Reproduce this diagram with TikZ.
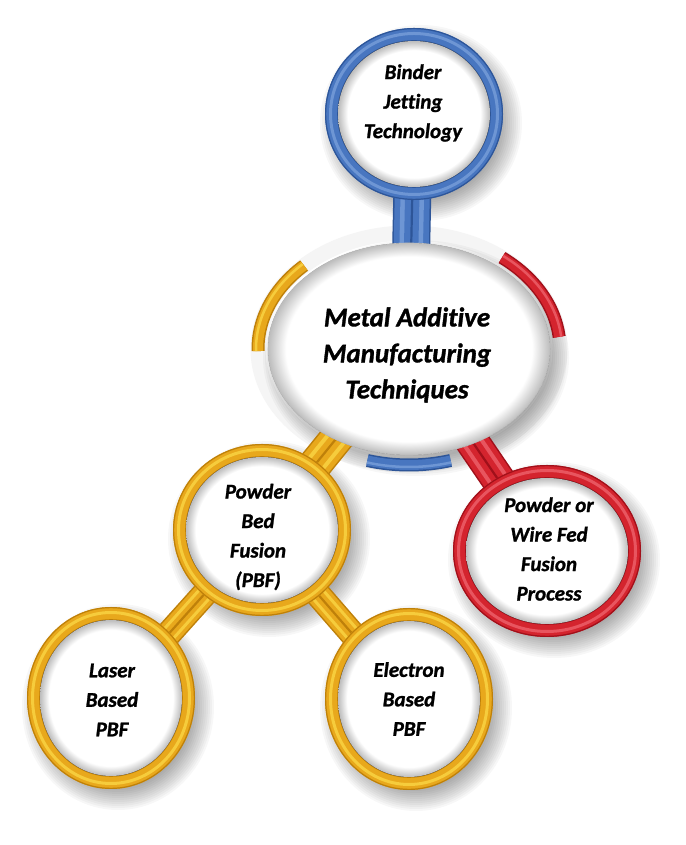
\documentclass[tikz,border=0pt]{standalone}
\usepackage{fontspec}
\setmainfont{Carlito}[BoldItalicFeatures={FakeBold=1.2}, Ligatures=NoCommon]
\usetikzlibrary{shapes.geometric}
\definecolor{bmain}{RGB}{72,118,192}
\definecolor{bdark}{RGB}{45,85,152}
\definecolor{blight}{RGB}{110,150,212}
\definecolor{ymain}{RGB}{232,168,28}
\definecolor{ydark}{RGB}{190,128,10}
\definecolor{ylight}{RGB}{246,204,60}
\definecolor{rmain}{RGB}{212,36,46}
\definecolor{rdark}{RGB}{160,16,26}
\definecolor{rlight}{RGB}{232,85,95}
\pgfdeclareradialshading{innerglow}{\pgfpoint{0bp}{0bp}}{color(0bp)=(white); color(21.8bp)=(white); color(25bp)=(black!26); color(50bp)=(black!26)}
\pgfdeclarelayer{shadowlayer}
\pgfdeclarelayer{stemlayer}
\pgfdeclarelayer{disklayer}
\pgfsetlayers{shadowlayer,stemlayer,disklayer,main}
\tikzset{
  holder/.style={shape=ellipse, inner sep=0pt},
  txt/.style={align=center, text=black, inner sep=0pt,
    font=\fontsize{21}{29.5}\selectfont\bfseries\itshape},
  bigtxt/.style={align=center, text=black, inner sep=0pt,
    font=\fontsize{27}{36}\selectfont\bfseries\itshape},
  shadowstep/.style={fill=black, opacity=0.032}
}
% soft shadow: name, rx, ry
\newcommand\softshadow[3]{%
  \begin{pgfonlayer}{shadowlayer}
    \foreach \k in {0,...,13}{
      \fill[shadowstep] (#1.center) ++(7,-9) ellipse[x radius=#2+12-2*\k, y radius=#3+12-2*\k];
    }
  \end{pgfonlayer}}
% name, main, dark, light, rx, ry
\newcommand\ringdisk[6]{%
  \softshadow{#1}{#5}{#6}
  \begin{pgfonlayer}{disklayer}
    \fill[#2] (#1.center) ellipse[x radius=#5, y radius=#6];
    \draw[#3, line width=1.2pt] (#1.center) ellipse[x radius=#5-0.6, y radius=#6-0.6];
    \draw[#4, line width=3pt] (#1.center) ellipse[x radius=#5-5.5, y radius=#6-5.5];
    \draw[#3, line width=0.8pt] (#1.center) ellipse[x radius=#5-12.6, y radius=#6-12.6];
    \fill[shading=innerglow] (#1.center) ellipse[x radius=#5-13, y radius=#6-13];
  \end{pgfonlayer}}
% stem: from, to, width, main, dark, light
\newcommand\stem[6]{%
  \begin{pgfonlayer}{stemlayer}
    \draw[#5, line width=#3pt] (#1.center) -- (#2.center);
    \draw[#4, line width=#3pt-3pt] (#1.center) -- (#2.center);
    \draw[#6, line width=0.62*#3pt] (#1.center) -- (#2.center);
    \draw[#4, line width=0.38*#3pt] (#1.center) -- (#2.center);
    \draw[#5, line width=2.2pt] (#1.center) -- (#2.center);
  \end{pgfonlayer}}
% ring arc around M: start, end, main, dark, light
\newcommand\ringarc[5]{%
  \draw[#4, line width=13pt] (M.center) ++(#1:151 and 116) arc[start angle=#1, end angle=#2, x radius=151, y radius=116];
  \draw[#3, line width=10pt] (M.center) ++(#1:151 and 116) arc[start angle=#1, end angle=#2, x radius=151, y radius=116];
  \draw[#5, line width=2.5pt] (M.center) ++(#1:153 and 118) arc[start angle=#1, end angle=#2, x radius=153, y radius=118];}
\begin{document}
\begin{tikzpicture}[x=1pt, y=1pt]
\useasboundingbox (0,0) rectangle (685,845);
\begin{pgfonlayer}{shadowlayer}
  \fill[white] (0,0) rectangle (685,845);
\end{pgfonlayer}
% placeholders for the disks
\node[holder, minimum width=178pt, minimum height=172pt] (B) at (414,731) {};
\node[holder, minimum width=282pt, minimum height=212pt] (M) at (409,496) {};
\node[holder, minimum width=178pt, minimum height=172pt] (P) at (262,315) {};
\node[holder, minimum width=188pt, minimum height=172pt] (W) at (547,294) {};
\node[holder, minimum width=168pt, minimum height=182pt] (L) at (111,147) {};
\node[holder, minimum width=168pt, minimum height=182pt] (E) at (409,146) {};
% faint band and central shadow
\begin{pgfonlayer}{shadowlayer}
  \draw[black!4, line width=15pt] (M.center) ellipse[x radius=151, y radius=116];
\end{pgfonlayer}
\softshadow{M}{141}{106}
% stems
\stem{B}{M}{38}{bmain}{bdark}{blight}
\stem{P}{M}{34}{ymain}{ydark}{ylight}
\stem{W}{M}{34}{rmain}{rdark}{rlight}
\stem{P}{L}{26}{ymain}{ydark}{ylight}
\stem{P}{E}{26}{ymain}{ydark}{ylight}
% arcs around the centre
\begin{pgfonlayer}{stemlayer}
  \ringarc{134}{181}{ymain}{ydark}{ylight}
  \ringarc{6}{52}{rmain}{rdark}{rlight}
  \ringarc{254}{286}{bmain}{bdark}{blight}
\end{pgfonlayer}
% disks
\ringdisk{B}{bmain}{bdark}{blight}{89}{86}
\ringdisk{P}{ymain}{ydark}{ylight}{89}{86}
\ringdisk{W}{rmain}{rdark}{rlight}{94}{86}
\ringdisk{L}{ymain}{ydark}{ylight}{84}{91}
\ringdisk{E}{ymain}{ydark}{ylight}{84}{91}
\begin{pgfonlayer}{disklayer}
  \fill[shading=innerglow] (M.center) ellipse[x radius=141, y radius=106];
  \draw[black!25, line width=0.6pt] (M.center) ellipse[x radius=141, y radius=106];
\end{pgfonlayer}
% texts
\node[txt] (Bt) at (413,742) {Binder\\Jetting\\Technology};
\node[bigtxt] (Mt) at (407,490) {Metal Additive\\Manufacturing\\Techniques};
\node[txt] (Pt) at (258,308) {Powder\\Bed\\Fusion\\(PBF)};
\node[txt] (Wt) at (549,296) {Powder or\\Wire Fed\\Fusion\\Process};
\node[txt] (Lt) at (112,145) {Laser\\Based\\PBF};
\node[txt] (Et) at (409,146) {Electron\\Based\\PBF};
\end{tikzpicture}
\end{document}
